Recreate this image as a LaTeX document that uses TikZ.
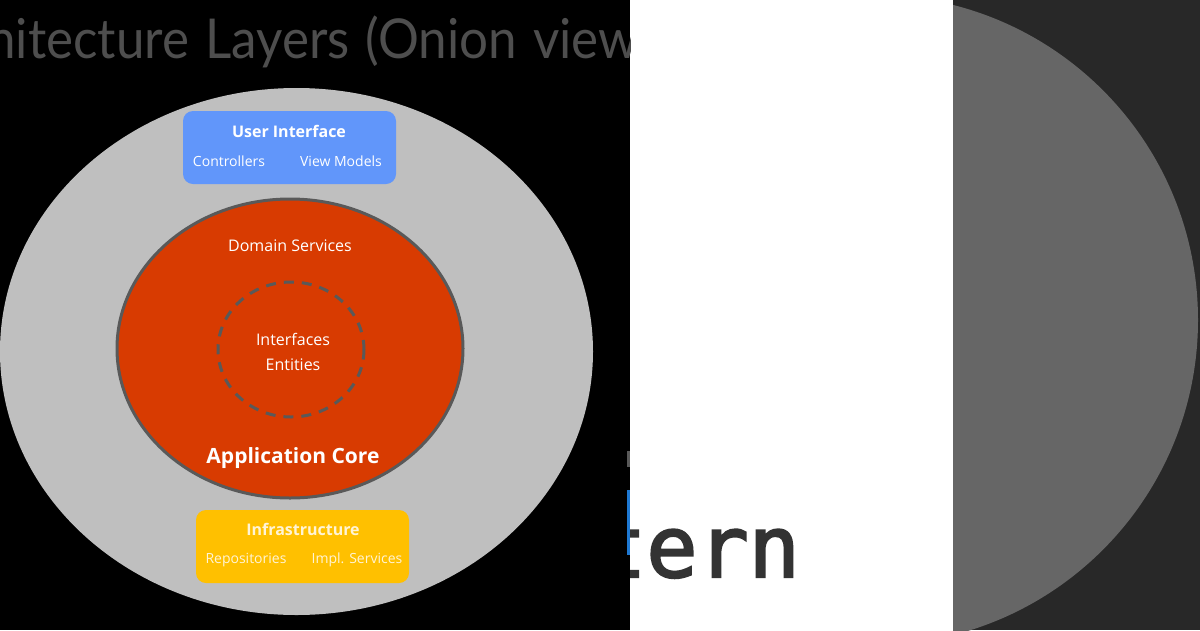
\documentclass[tikz,border=0pt]{standalone}
\usepackage{fontspec}
\setmainfont{Open Sans}
\newfontfamily\titlefont[FakeStretch=0.93]{Lato}
\newfontfamily\monofont[FakeBold=2.5]{DejaVu Sans Mono}
\definecolor{outerg}{HTML}{BFBFBF}
\definecolor{corered}{HTML}{D83B01}
\definecolor{edgeg}{HTML}{595959}
\definecolor{uiblue}{HTML}{6196FA}
\definecolor{infray}{HTML}{FFC000}
\definecolor{darkpanel}{HTML}{282828}
\definecolor{circg}{HTML}{666666}
\definecolor{monotext}{HTML}{333333}
\definecolor{titleg}{HTML}{4E4E4E}
\definecolor{fragblue}{HTML}{1E78D2}
\definecolor{creamtext}{HTML}{FFF4D6}
\tikzset{
  layerbox/.style={rounded corners=10pt, minimum width=213pt, minimum height=73pt, inner sep=0pt, draw=none},
  boxtitle/.style={font=\fontsize{16}{18}\selectfont\bfseries, text=white, inner sep=0pt},
  boxitem/.style={font=\fontsize{14}{16}\selectfont, text=white, inner sep=0pt},
  coretext/.style={font=\fontsize{16}{18}\selectfont, text=white, inner sep=0pt},
}
\begin{document}
\begin{tikzpicture}[x=1pt,y=-1pt]
\useasboundingbox (0,0) rectangle (1200,630);
% panels
\fill[black] (0,0) rectangle (630,630);
\fill[white] (630,0) rectangle (953,630);
\fill[darkpanel] (953,0) rectangle (1200,630);
% right circle
\begin{scope}
  \clip (953,0) rectangle (1200,630);
  \fill[circg] (873,320) circle (325);
\end{scope}
% middle text
\begin{scope}
  \clip (630,0) rectangle (953,630);
  \node[anchor=base west, inner sep=0pt, font=\monofont\fontsize{85}{90}\selectfont, text=monotext] (tern) at (595,577) {tern};
\end{scope}
% fragments
\fill[edgeg] (627,451) rectangle (630,467);
\fill[fragblue] (627,490) rectangle (630,555);
% title
\begin{scope}
  \clip (0,0) rectangle (630,630);
  \node[anchor=base west, inner sep=0pt, font=\titlefont\fontsize{55}{60}\selectfont, text=titleg] (title) at (205,58) {\spaceskip=16pt\relax\llap{Architecture }Layers (Onion view)};
\end{scope}
% outer ellipse
\fill[outerg] (296.5,351.5) ellipse [x radius=296.5, y radius=263.5];
% core
\draw[line width=3pt, draw=edgeg, fill=corered] (290,348.5) ellipse [x radius=173, y radius=149.5];
\draw[line width=3pt, draw=edgeg, dash pattern=on 10pt off 8pt] (291,349.5) ellipse [x radius=73, y radius=67.5];
\node[coretext] (domain) at (290,246) {Domain Services};
\node[coretext] (ifaces) at (293,339) {Interfaces};
\node[coretext] (ents) at (293,364.5) {Entities};
\node[font=\fontsize{21}{24}\selectfont\bfseries, text=white, inner sep=0pt] (core) at (293,458.5) {Application Core};
% UI box
\node[layerbox, fill=uiblue] (ui) at (289.5,147.5) {};
\node[boxtitle] (uit) at (289,131) {User Interface};
\node[boxitem] (ctrl) at (229,161.5) {Controllers};
\node[boxitem] (vm) at (341,161.5) {View Models};
% Infra box
\node[layerbox, fill=infray] (infra) at (302.5,546.5) {};
\node[boxtitle, text=creamtext] (inft) at (303,529) {Infrastructure};
\node[boxitem, text=creamtext] (repo) at (246,560) {Repositories};
\node[boxitem, text=creamtext] (impl) at (357,560) {Impl. Services};
\end{tikzpicture}
\end{document}
